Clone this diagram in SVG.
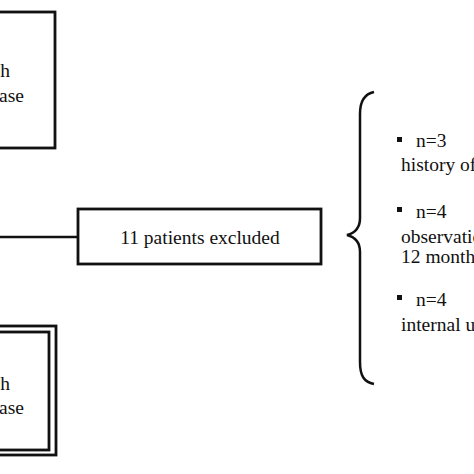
<svg xmlns="http://www.w3.org/2000/svg" width="474" height="474" viewBox="0 0 474 474">
<style>
text{font-family:"Liberation Serif","Times New Roman",serif;font-size:19.5px;fill:#111}
.box{fill:#fff;stroke:#111;stroke-width:2.8}
.ln{fill:none;stroke:#111;stroke-width:2.5}
.bul{fill:#111}
</style>
<rect width="474" height="474" fill="#fff"/>
<g id="connectors">
<line class="ln" x1="0" y1="237" x2="78" y2="237"/>
</g>
<g id="top-box">
<rect class="box" x="-60" y="12" width="115" height="136"/>
<text x="10" y="77" text-anchor="end">h</text>
<text x="24" y="102" text-anchor="end">ase</text>
</g>
<g id="excluded">
<rect class="box" x="78" y="209" width="243" height="55"/>
<text x="200" y="244" text-anchor="middle">11 patients excluded</text>
</g>
<g id="bottom-box">
<rect class="box" x="-60" y="326" width="116" height="129"/>
<rect class="box" x="-60" y="332" width="109" height="118"/>
<text x="10" y="390" text-anchor="end">h</text>
<text x="24" y="414" text-anchor="end">ase</text>
</g>
<g id="brace">
<path class="ln" d="M374,92 C364,94 360,102 360,114 L360,218 C360,228 355,233 347,235 C355,237 360,242 360,252 L360,362 C360,376 364,382 374,384"/>
</g>
<g id="reasons">
<rect class="bul" x="397" y="137" width="5" height="5"/>
<text x="416" y="147">n=3</text>
<text x="401" y="171">history of</text>
<rect class="bul" x="397" y="207" width="5" height="5"/>
<text x="416" y="218">n=4</text>
<text x="401" y="243">observation</text>
<text x="401" y="263">12 months</text>
<rect class="bul" x="397" y="295" width="5" height="5"/>
<text x="416" y="306">n=4</text>
<text x="401" y="331">internal use</text>
</g>
</svg>
